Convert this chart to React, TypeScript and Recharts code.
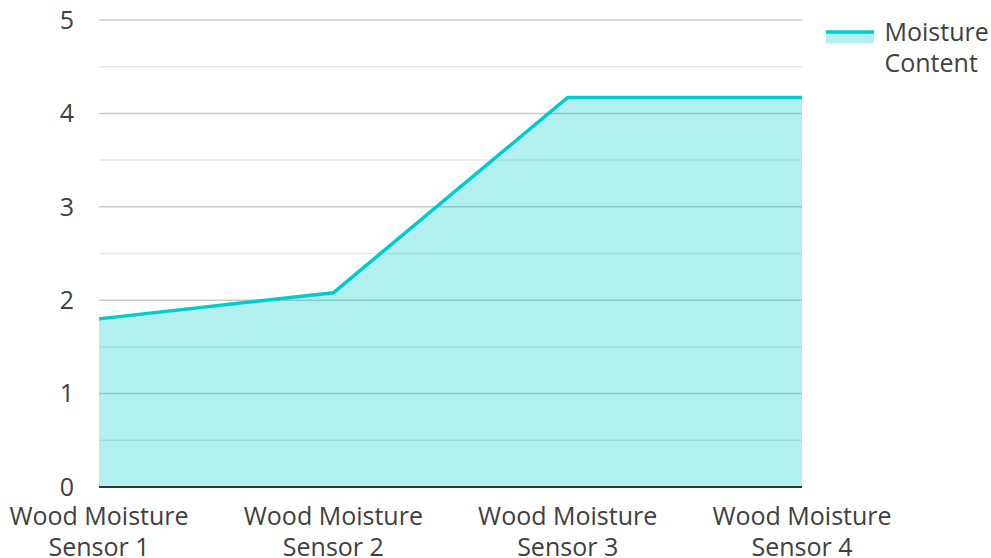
import React from "react";
import {
  Area,
  AreaChart,
  CartesianGrid,
  Legend,
  XAxis,
  YAxis,
} from "recharts";

// categories and series values
const sensors = [
  "Wood Moisture Sensor 1",
  "Wood Moisture Sensor 2",
  "Wood Moisture Sensor 3",
  "Wood Moisture Sensor 4",
];
const moisture = [1.8, 2.08, 4.17, 4.17];
const yTicks = [0, 1, 2, 3, 4, 5];
const minorTicks = [0.5, 1.5, 2.5, 3.5, 4.5];
const seriesName = "Moisture Content";

const data = sensors.map((name, i) => ({ name, value: moisture[i] }));

const TEAL = "#00CCCC";
const TEXT = "#404040";
const FONT = "'Open Sans', 'Noto Sans', sans-serif";
const FS = 25;

// two-line category label: "Wood Moisture" / "Sensor N"
const SensorTick = (props: any) => {
  const { x, y, payload } = props;
  const words = String(payload.value).split(" ");
  const first = words.slice(0, 2).join(" ");
  const second = words.slice(2).join(" ");
  return (
    <text
      x={x}
      y={y}
      textAnchor="middle"
      fill={TEXT}
      fontSize={FS}
      fontFamily={FONT}
    >
      <tspan x={x} dy={30}>
        {first}
      </tspan>
      <tspan x={x} dy={31}>
        {second}
      </tspan>
    </text>
  );
};

const MoistureLegend = () => (
  <div style={{ display: "flex", alignItems: "flex-start", fontFamily: FONT }}>
    <svg width={50} height={30} style={{ display: "block" }}>
      <rect x={0} y={16} width={50} height={11} fill={TEAL} fillOpacity={0.3} />
      <line x1={0} x2={50} y1={16} y2={16} stroke={TEAL} strokeWidth={3.5} />
    </svg>
    <div
      style={{
        marginLeft: 10,
        width: 115,
        fontSize: FS,
        lineHeight: "31px",
        color: TEXT,
      }}
    >
      {seriesName}
    </div>
  </div>
);

export default function App() {
  return (
    <div
      style={{
        position: "absolute",
        left: 0,
        top: 0,
        width: 991,
        height: 558,
        background: "#fff",
        fontFamily: FONT,
      }}
    >
      <AreaChart
        width={991}
        height={558}
        data={data}
        margin={{ top: 20, right: 189, bottom: 0, left: 0 }}
      >
        <CartesianGrid
          vertical={false}
          horizontalValues={minorTicks}
          stroke="#e6e6e6"
          strokeWidth={1.5}
        />
        <CartesianGrid
          vertical={false}
          horizontalValues={yTicks}
          stroke="#c8c8c8"
          strokeWidth={1.5}
        />
        <XAxis
          dataKey="name"
          height={71}
          tickLine={false}
          axisLine={{ stroke: "#333", strokeWidth: 2 }}
          tick={<SensorTick />}
          interval={0}
        />
        <YAxis
          width={99}
          domain={[0, 5]}
          ticks={yTicks}
          axisLine={false}
          tickLine={false}
          tickMargin={19}
          tick={{ fill: TEXT, fontSize: FS, fontFamily: FONT }}
        />
        <Legend
          layout="vertical"
          align="center"
          verticalAlign="middle"
          content={<MoistureLegend />}
          wrapperStyle={{ position: "absolute", top: 16, left: 826, width: 170 }}
        />
        <Area
          type="linear"
          dataKey="value"
          name={seriesName}
          stroke={TEAL}
          strokeWidth={3.5}
          fill={TEAL}
          fillOpacity={0.3}
          dot={false}
          activeDot={false}
          isAnimationActive={false}
        />
      </AreaChart>
    </div>
  );
}
